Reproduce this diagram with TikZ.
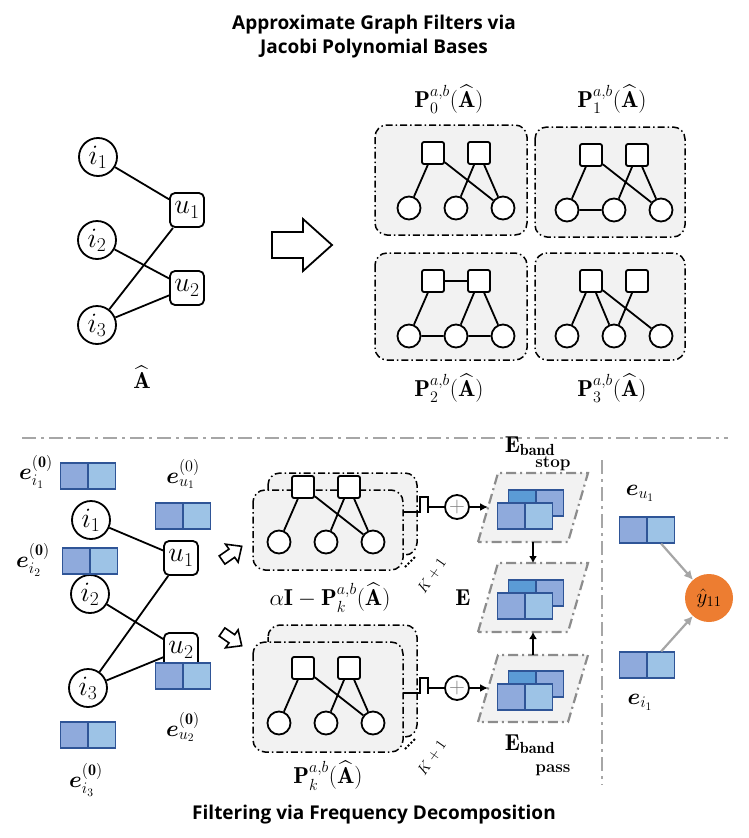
\RequirePackage{fix-cm}
\documentclass[tikz,border=0pt]{standalone}
\usepackage{fontspec}
\usepackage{amsmath,amssymb,bm}
\newfontfamily\ttl{Open Sans}
\usetikzlibrary{arrows.meta,shapes.geometric}
\definecolor{cA}{HTML}{8FAADC}
\definecolor{cB}{HTML}{9DC3E6}
\definecolor{cC}{HTML}{5B9BD5}
\definecolor{cbd}{HTML}{2F5597}
\definecolor{orng}{HTML}{ED7D31}
\begin{document}
\begin{tikzpicture}[x=1pt,y=-1pt,
 ttlf/.style={font=\ttl\bfseries\fontsize{19}{24}\selectfont,align=center},
 lab/.style={font=\fontsize{23}{26}\selectfont,inner sep=1pt},
 cnode/.style={circle,draw,line width=1.8pt,minimum size=38pt,inner sep=0pt,fill=white,font=\fontsize{28}{28}\selectfont},
 unode/.style={rectangle,rounded corners=5pt,draw,line width=1.8pt,minimum size=34pt,inner sep=0pt,fill=white,font=\fontsize{28}{28}\selectfont},
 sq/.style={rectangle,rounded corners=2pt,draw,line width=1.8pt,minimum size=22pt,inner sep=0pt,fill=white},
 ci/.style={circle,draw,line width=1.8pt,minimum size=23pt,inner sep=0pt,fill=white},
 ed/.style={line width=1.8pt},
 fbox/.style={draw,fill=black!5,rounded corners=12pt,line width=1.5pt,dash pattern=on 7pt off 3pt on 1.5pt off 3pt},
 cellA/.style={rectangle,draw=cbd,line width=1.3pt,fill=cA,minimum width=27pt,minimum height=26pt,inner sep=0pt},
 cellB/.style={cellA,fill=cB},
 cellC/.style={cellA,fill=cC},
 para/.style={draw=black!45,fill=black!5,line width=2.2pt,dash pattern=on 10pt off 4pt on 2pt off 4pt},
 sep/.style={draw=black!35,line width=2.2pt,dash pattern=on 14pt off 5pt on 3pt off 5pt},
 hollow/.style={draw,line width=1.8pt,fill=white,line join=miter},
 arr/.style={-{Latex[length=8pt,width=8pt]},line width=1.8pt},
 mg/.pic={
  \node[sq] (-s1) at (0,0) {};
  \node[sq] (-s2) at (46,0) {};
  \node[ci] (-c1) at (-24,55) {};
  \node[ci] (-c2) at (23,55) {};
  \node[ci] (-c3) at (70,55) {};
 }]
\useasboundingbox (0,0) rectangle (748,838);
% titles
\node[ttlf] (t1) at (374,37) {Approximate Graph Filters via\\Jacobi Polynomial Bases};
\node[ttlf] (t2) at (374,815) {Filtering via Frequency Decomposition};
% top-left graph
\node[cnode] (i1) at (98,157) {$i_1$};
\node[cnode] (i2) at (97,240) {$i_2$};
\node[cnode] (i3) at (97,325) {$i_3$};
\node[unode] (u1) at (187,210) {$u_1$};
\node[unode] (u2) at (187,288) {$u_2$};
\draw[ed] (i1) -- (u1); \draw[ed] (i3) -- (u1); \draw[ed] (i2) -- (u2); \draw[ed] (i3) -- (u2);
\node[lab] (Ahat) at (142,377) {$\widehat{\mathbf{A}}$};
\draw[hollow] (272,232) -- (303,232) -- (303,219) -- (332,245) -- (303,271) -- (303,258) -- (272,258) -- cycle;
% four boxes
\draw[fbox] (375,125) rectangle (527,235);
\draw[fbox] (535,127) rectangle (685,237);
\draw[fbox] (375,253) rectangle (527,360);
\draw[fbox] (535,253) rectangle (685,360);
\pic (g0) at (433,153) {mg};
\pic (g1) at (591,155) {mg};
\pic (g2) at (433,281) {mg};
\pic (g3) at (591,281) {mg};
\draw[ed] (g0-s1)--(g0-c1) (g0-s1)--(g0-c3) (g0-s2)--(g0-c2) (g0-s2)--(g0-c3);
\draw[ed] (g1-s1)--(g1-c1) (g1-s1)--(g1-c3) (g1-s2)--(g1-c2) (g1-s2)--(g1-c3) (g1-c1)--(g1-c2);
\draw[ed] (g2-s1)--(g2-s2) (g2-s1)--(g2-c1) (g2-s2)--(g2-c2) (g2-s2)--(g2-c3) (g2-c1)--(g2-c2) (g2-c2)--(g2-c3);
\draw[ed] (g3-s1)--(g3-c1) (g3-s1)--(g3-c2) (g3-s1)--(g3-c3) (g3-s2)--(g3-c2);
\node[lab] (P0) at (449,99) {$\mathbf{P}_0^{a,b}(\widehat{\mathbf{A}})$};
\node[lab] (P1) at (612,99) {$\mathbf{P}_1^{a,b}(\widehat{\mathbf{A}})$};
\node[lab] (P2) at (449,388) {$\mathbf{P}_2^{a,b}(\widehat{\mathbf{A}})$};
\node[lab] (P3) at (612,388) {$\mathbf{P}_3^{a,b}(\widehat{\mathbf{A}})$};
% separators
\coordinate (sl) at (22,438); \coordinate (sr) at (728,438);
\draw[sep] (sl) -- (sr);
\coordinate (vt) at (602,460); \coordinate (vb) at (602,785);
\draw[sep] (vt) -- (vb);
% bottom-left graph
\node[cnode] (bi1) at (91,520) {$i_1$};
\node[cnode] (bi2) at (90,594) {$i_2$};
\node[cnode] (bi3) at (88,688) {$i_3$};
\node[unode] (bu1) at (181,558) {$u_1$};
\node[unode] (bu2) at (181,650) {$u_2$};
\draw[ed] (bi1)--(bu1) (bi3)--(bu1) (bi2)--(bu2) (bi3)--(bu2);
% embeddings
\node[cellA,anchor=east] (ei1a) at (88,476) {}; \node[cellB,anchor=west] (ei1b) at (88,476) {};
\node[cellA,anchor=east] (eu1a) at (183,516) {}; \node[cellB,anchor=west] (eu1b) at (183,516) {};
\node[cellA,anchor=east] (ei2a) at (90,561) {}; \node[cellB,anchor=west] (ei2b) at (90,561) {};
\node[cellA,anchor=east] (ei3a) at (88,735) {}; \node[cellB,anchor=west] (ei3b) at (88,735) {};
\node[cellA,anchor=east] (eu2a) at (183,676) {}; \node[cellB,anchor=west] (eu2b) at (183,676) {};
\node[lab] (lei1) at (36,472) {$\bm{e}_{i_1}^{(\mathbf{0})}$};
\node[lab] (leu1) at (183,474) {$\bm{e}_{u_1}^{(0)}$};
\node[lab] (lei2) at (33,560) {$\bm{e}_{i_2}^{(\mathbf{0})}$};
\node[lab] (lei3) at (86,780) {$\bm{e}_{i_3}^{(\mathbf{0})}$};
\node[lab] (leu2) at (183,727) {$\bm{e}_{u_2}^{(\mathbf{0})}$};
% small hollow arrows
\draw[hollow,line width=1.6pt] (219.2,555.9) -- (229,549.1) -- (225.5,544.2) -- (241.7,546.3) -- (238.1,562.2) -- (234.7,557.3) -- (224.9,564.1) -- cycle;
\draw[hollow,line width=1.6pt] (224.9,627.9) -- (234.7,634.7) -- (238.1,629.8) -- (241.7,645.7) -- (225.5,647.8) -- (229,642.9) -- (219.2,636.1) -- cycle;
% filter boxes
\draw[fbox] (268,473) rectangle (417,555);
\draw[fbox] (253,490) rectangle (403,570);
\draw[fbox] (268,625) rectangle (417,737);
\draw[fbox] (253,642) rectangle (403,752);
\pic (fa) at (303,487) {mg};
\pic (fb) at (303,668) {mg};
\foreach \g in {fa,fb}{\draw[ed] (\g-s1)--(\g-c1) (\g-s1)--(\g-c3) (\g-s2)--(\g-c2) (\g-s2)--(\g-c3);}
\node[lab] (lfa) at (330,598) {$\alpha\mathbf{I}-\mathbf{P}_k^{a,b}(\widehat{\mathbf{A}})$};
\node[lab] (lfb) at (328,776) {$\mathbf{P}_k^{a,b}(\widehat{\mathbf{A}})$};
\node[font=\fontsize{15}{16}\selectfont,rotate=55] (ka) at (432,576) {$K+1$};
\node[font=\fontsize{15}{16}\selectfont,rotate=55] (kb) at (432,758) {$K+1$};
\draw[line width=2pt,dotted] (405,567) -- (416,556);
\draw[line width=2pt,dotted] (405,749) -- (416,738);
% brackets and sums
\node[circle,draw,line width=1.8pt,minimum size=24pt,inner sep=0pt,fill=white,text=black!50,font=\bfseries\fontsize{22}{22}\selectfont] (pa) at (457,507) {$+$};
\node[circle,draw,line width=1.8pt,minimum size=24pt,inner sep=0pt,fill=white,text=black!50,font=\bfseries\fontsize{22}{22}\selectfont] (pb) at (457,688) {$+$};
\draw[ed] (403,512) -- (420,512) -- (420,497) -- (428,497) -- (428,513);
\draw[ed] (428,507) -- (pa);
\draw[ed] (403,693) -- (420,693) -- (420,678) -- (428,678) -- (428,694);
\draw[ed] (428,688) -- (pb);
% parallelograms
\draw[para] (478,542) -- (498,473) -- (588,473) -- (568,542) -- cycle;
\draw[para] (478,632) -- (498,563) -- (588,563) -- (568,632) -- cycle;
\draw[para] (478,722) -- (498,655) -- (588,655) -- (568,722) -- cycle;
\coordinate (ina) at (488,507); \coordinate (inb) at (488,688);
\draw[arr] (pa) -- (ina);
\draw[arr] (pb) -- (inb);
\foreach \n/\y in {s/503,m/593,p/684}{
 \node[cellC,anchor=east] (\n ba) at (536,\y) {}; \node[cellA,anchor=west] (\n bb) at (536,\y) {};
 \node[cellA,anchor=east] (\n fa) at (525,\y+13) {}; \node[cellB,anchor=west] (\n fb) at (525,\y+13) {};
}
\coordinate (sb) at (533,542); \coordinate (mt) at (533,563);
\coordinate (mb) at (533,632); \coordinate (pt) at (533,655);
\draw[arr,-{Latex[length=7pt,width=8pt]}] (sb) -- (mt);
\draw[arr,-{Latex[length=7pt,width=8pt]}] (pt) -- (mb);
\node[lab] (Es) at (530,446) {$\mathbf{E}_{\mathbf{band}}$};
\node[lab,font=\bfseries\fontsize{17}{18}\selectfont] (stop) at (553,464) {stop};
\node[lab] (Em) at (463,598) {$\mathbf{E}$};
\node[lab] (Ep) at (530,744) {$\mathbf{E}_{\mathbf{band}}$};
\node[lab,font=\bfseries\fontsize{17}{18}\selectfont] (pass) at (553,770) {pass};
% right part
\node[cellA,anchor=east] (rua) at (647,530) {}; \node[cellB,anchor=west] (rub) at (647,530) {};
\node[cellA,anchor=east] (ria) at (647,665) {}; \node[cellB,anchor=west] (rib) at (647,665) {};
\node[lab] (leu) at (640,493) {$\bm{e}_{u_1}$};
\node[lab] (lei) at (640,702) {$\bm{e}_{i_1}$};
\node[circle,fill=orng,minimum size=48pt,inner sep=0pt,font=\fontsize{21}{22}\selectfont] (y) at (709,598) {$\hat{y}_{11}$};
\draw[-{Latex[length=9pt,width=9pt]},draw=black!35,line width=2.2pt] (rub.south) -- (y);
\draw[-{Latex[length=9pt,width=9pt]},draw=black!35,line width=2.2pt] (rib.north) -- (y);
\end{tikzpicture}
\end{document}
